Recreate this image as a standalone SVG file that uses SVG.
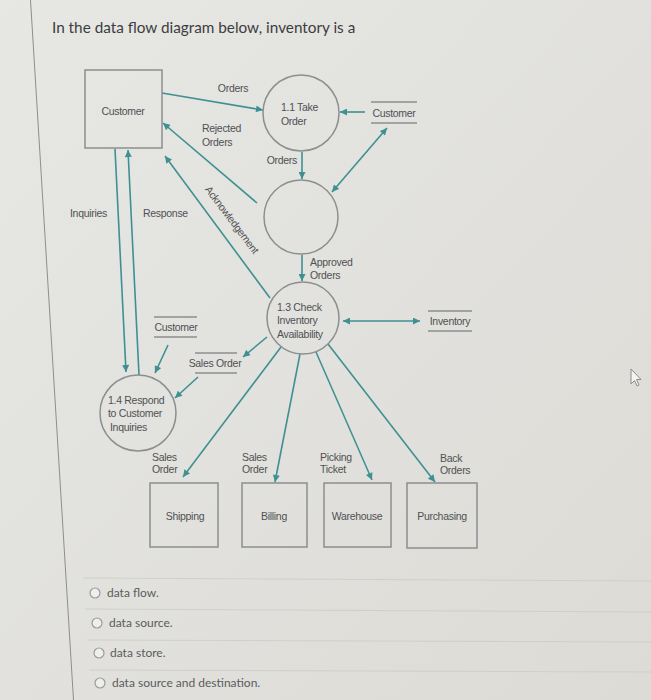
<svg xmlns="http://www.w3.org/2000/svg" width="651" height="700" viewBox="0 0 651 700">
<defs>
<linearGradient id="bg" x1="0" y1="0" x2="1" y2="1">
<stop offset="0" stop-color="#e7e7e4"/>
<stop offset="1" stop-color="#dcdbd6"/>
</linearGradient>
<marker id="ah" viewBox="0 0 10 10" refX="10" refY="5" markerWidth="8" markerHeight="7" markerUnits="userSpaceOnUse" orient="auto-start-reverse">
<path d="M0,0 L10,5 L0,10 Z" fill="#3f9092"/>
</marker>
<style>
.flow{stroke:#3f9092;stroke-width:1.6;fill:none;marker-end:url(#ah)}
.both{marker-start:url(#ah)}
.shape{fill:none;stroke:#8b8f8e;stroke-width:1.5}
.store{stroke:#8b8f8e;stroke-width:1.5}
.lbl{font-family:"Liberation Sans",Arial,sans-serif;font-size:10.5px;fill:#4f5154;letter-spacing:-0.3px}
.q{font-family:Lato,"Liberation Sans",sans-serif;font-size:12px;fill:#5a5c5e}
.radio{fill:#eeeeec;stroke:#9a9c9c;stroke-width:1.2}
.sep{stroke:#cfcfcb;stroke-width:1}
</style>
</defs>
<rect width="651" height="700" fill="url(#bg)"/>
<line x1="30.5" y1="0" x2="73.5" y2="700" stroke="#8e8f8c" stroke-width="1"/>
<text x="52" y="33" style="font-family:Lato,'Liberation Sans',sans-serif;font-size:15.3px;fill:#3c3d40">In the data flow diagram below, inventory is a</text>

<g id="connectors">
<line class="flow" x1="162" y1="93" x2="263" y2="110"/>
<line class="flow" x1="257" y1="203" x2="163" y2="123"/>
<line class="flow" x1="270" y1="298" x2="165" y2="156"/>
<line class="flow" x1="115" y1="149" x2="126" y2="372"/>
<line class="flow" x1="139" y1="375" x2="128" y2="150"/>
<line class="flow" x1="302" y1="152" x2="302" y2="179"/>
<line class="flow" x1="365" y1="112" x2="340" y2="112"/>
<line class="flow both" x1="387" y1="128" x2="332" y2="192"/>
<line class="flow" x1="302" y1="255" x2="302" y2="281"/>
<line class="flow both" x1="343" y1="321" x2="420" y2="321"/>
<line class="flow" x1="267" y1="337" x2="243" y2="357"/>
<line class="flow" x1="168" y1="345" x2="155" y2="373"/>
<line class="flow" x1="198" y1="377" x2="175" y2="398"/>
<line class="flow" x1="281" y1="347" x2="183" y2="477"/>
<line class="flow" x1="300" y1="354" x2="275" y2="482"/>
<line class="flow" x1="316" y1="352" x2="372" y2="480"/>
<line class="flow" x1="328" y1="344" x2="435" y2="482"/>
</g>

<g id="flow-labels">
<text class="lbl" x="233" y="92" text-anchor="middle">Orders</text>
<text class="lbl" x="202" y="132">Rejected</text>
<text class="lbl" x="202" y="146">Orders</text>
<text class="lbl" x="229" y="222" text-anchor="middle" transform="rotate(53 229 222)">Acknowledgement</text>
<text class="lbl" x="297" y="164" text-anchor="end">Orders</text>
<text class="lbl" x="70" y="217">Inquiries</text>
<text class="lbl" x="143" y="217">Response</text>
<text class="lbl" x="310" y="266">Approved</text>
<text class="lbl" x="310" y="279">Orders</text>
<text class="lbl" x="152" y="461">Sales</text>
<text class="lbl" x="152" y="473">Order</text>
<text class="lbl" x="242" y="461">Sales</text>
<text class="lbl" x="242" y="473">Order</text>
<text class="lbl" x="320" y="461">Picking</text>
<text class="lbl" x="320" y="473">Ticket</text>
<text class="lbl" x="440" y="462">Back</text>
<text class="lbl" x="440" y="474">Orders</text>
</g>

<g id="customer">
<rect class="shape" x="85" y="70" width="77" height="78"/>
<text class="lbl" x="123" y="115" text-anchor="middle">Customer</text>
</g>
<g id="p11">
<circle class="shape" cx="301" cy="113" r="38"/>
<text class="lbl" x="281" y="111">1.1 Take</text>
<text class="lbl" x="281" y="125">Order</text>
</g>
<g id="p12">
<circle class="shape" cx="301" cy="217" r="37"/>
</g>
<g id="p13">
<circle class="shape" cx="303" cy="318" r="36"/>
<text class="lbl" x="277" y="311">1.3 Check</text>
<text class="lbl" x="277" y="324">Inventory</text>
<text class="lbl" x="277" y="338">Availability</text>
</g>
<g id="p14">
<circle class="shape" cx="138" cy="413" r="38"/>
<text class="lbl" x="108" y="404">1.4 Respond</text>
<text class="lbl" x="108" y="417">to Customer</text>
<text class="lbl" x="110" y="431">Inquiries</text>
</g>
<g id="ds-customer-top">
<line class="store" x1="371" y1="102" x2="417" y2="102"/>
<line class="store" x1="371" y1="123" x2="417" y2="123"/>
<text class="lbl" x="394" y="117" text-anchor="middle">Customer</text>
</g>
<g id="ds-inventory">
<line class="store" x1="428" y1="311" x2="472" y2="311"/>
<line class="store" x1="428" y1="331" x2="472" y2="331"/>
<text class="lbl" x="450" y="325" text-anchor="middle">Inventory</text>
</g>
<g id="ds-customer-mid">
<line class="store" x1="154" y1="317" x2="197" y2="317"/>
<line class="store" x1="154" y1="337" x2="197" y2="337"/>
<text class="lbl" x="176" y="331" text-anchor="middle">Customer</text>
</g>
<g id="ds-sales-order">
<line class="store" x1="195" y1="353" x2="237" y2="353"/>
<line class="store" x1="195" y1="373" x2="237" y2="373"/>
<text class="lbl" x="215" y="367" text-anchor="middle">Sales Order</text>
</g>
<g id="shipping">
<rect class="shape" x="150" y="483" width="68" height="64"/>
<text class="lbl" x="185" y="520" text-anchor="middle">Shipping</text>
</g>
<g id="billing">
<rect class="shape" x="242" y="483" width="65" height="64"/>
<text class="lbl" x="274" y="520" text-anchor="middle">Billing</text>
</g>
<g id="warehouse">
<rect class="shape" x="324" y="483" width="67" height="64"/>
<text class="lbl" x="357" y="520" text-anchor="middle">Warehouse</text>
</g>
<g id="purchasing">
<rect class="shape" x="407" y="483" width="70" height="65"/>
<text class="lbl" x="442" y="520" text-anchor="middle">Purchasing</text>
</g>

<g id="answers">
<line class="sep" x1="83" y1="578" x2="651" y2="581"/>
<line class="sep" x1="85" y1="609" x2="651" y2="612"/>
<line class="sep" x1="87" y1="640" x2="651" y2="642"/>
<line class="sep" x1="89" y1="670" x2="651" y2="672"/>
<circle class="radio" cx="95" cy="593" r="5"/>
<text class="q" x="107" y="597">data flow.</text>
<circle class="radio" cx="97" cy="623" r="5"/>
<text class="q" x="109" y="627">data source.</text>
<circle class="radio" cx="99" cy="653" r="5"/>
<text class="q" x="110" y="657">data store.</text>
<circle class="radio" cx="100" cy="683" r="5"/>
<text class="q" x="112" y="687">data source and destination.</text>
</g>
<path d="M631,369 L631,384 L634.5,380.5 L637,386 L639,385 L636.5,379.5 L641,379.5 Z" fill="#f4f4f2" stroke="#8a8c8c" stroke-width="1"/>
</svg>
